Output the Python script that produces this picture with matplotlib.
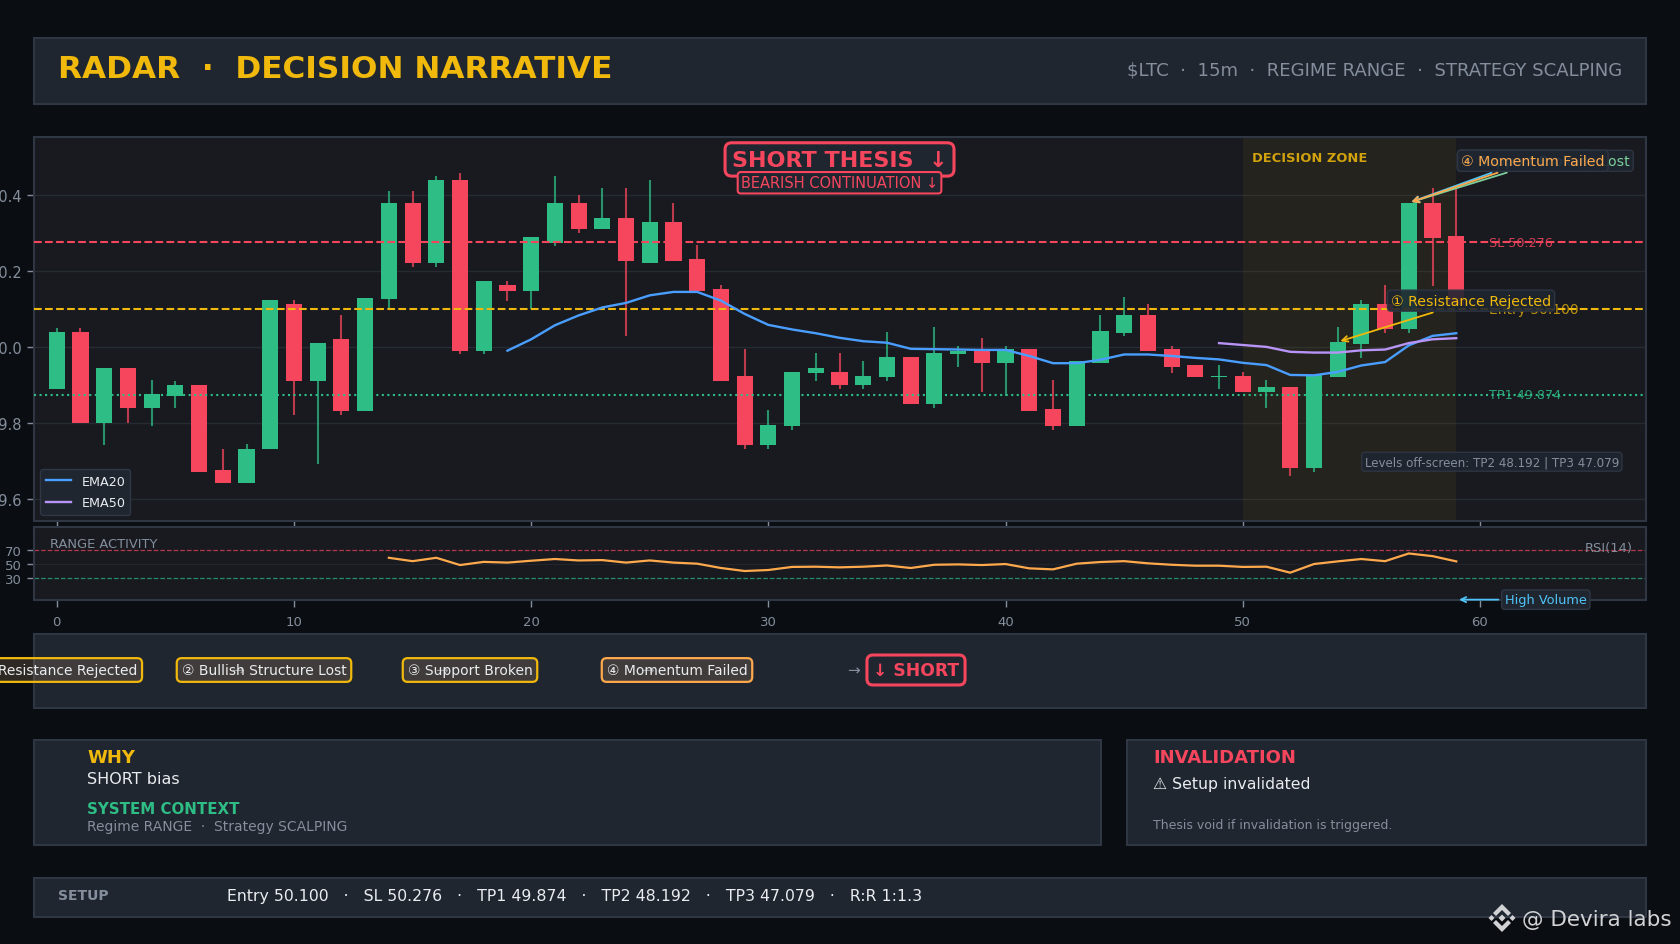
import numpy as np
import matplotlib
matplotlib.use("Agg")
import matplotlib.pyplot as plt
from matplotlib.patches import Rectangle, Polygon

# Palette
BG = "#0a0e12"
PANEL = "#1f2630"
EDGE = "#2f3744"
CHART = "#181a20"
GREEN = "#2ebd85"
RED = "#f6465d"
GOLD = "#f0b90b"
ORANGE = "#ffa94d"
CYAN = "#4fc3f7"
BLUE = "#4a9eff"
PURPLE = "#b794f6"
TEXT = "#eaecef"
GREY = "#848e9c"

# Candles
opens = [49.89, 50.04, 49.80, 49.945, 49.84, 49.87, 49.90, 49.675, 49.64, 49.73,
         50.114, 49.91, 50.02, 49.83, 50.127, 50.38, 50.22, 50.44, 49.99, 50.164,
         50.148, 50.275, 50.38, 50.31, 50.34, 50.22, 50.33, 50.232, 50.153, 49.924,
         49.74, 49.79, 49.93, 49.935, 49.90, 49.92, 49.974, 49.85, 49.98, 49.995,
         49.958, 49.995, 49.835, 49.79, 49.958, 50.037, 50.085, 49.995, 49.953, 49.92,
         49.924, 49.88, 49.895, 49.68, 49.92, 50.008, 50.114, 50.048, 50.38, 50.293]
highs = [50.05, 50.05, 49.945, 49.945, 49.913, 49.91, 49.90, 49.73, 49.745, 50.124,
         50.124, 50.01, 50.085, 50.13, 50.41, 50.41, 50.45, 50.46, 50.174, 50.174,
         50.29, 50.45, 50.40, 50.42, 50.42, 50.44, 50.38, 50.27, 50.164, 49.995,
         49.834, 49.935, 49.985, 49.985, 49.964, 50.04, 49.974, 50.053, 50.003, 50.024,
         50.003, 49.995, 49.913, 49.964, 50.085, 50.132, 50.114, 50.003, 49.953, 49.953,
         49.935, 49.913, 49.895, 49.926, 50.053, 50.124, 50.164, 50.38, 50.42, 50.42]
lows = [49.89, 49.80, 49.74, 49.80, 49.79, 49.84, 49.67, 49.64, 49.64, 49.73,
        49.82, 49.69, 49.82, 49.83, 50.10, 50.21, 50.21, 49.98, 49.98, 50.12,
        50.10, 50.267, 50.30, 50.31, 50.03, 50.22, 50.227, 50.148, 49.91, 49.73,
        49.73, 49.78, 49.91, 49.89, 49.89, 49.91, 49.85, 49.84, 49.948, 49.88,
        49.87, 49.83, 49.78, 49.79, 49.958, 50.03, 49.99, 49.93, 49.92, 49.89,
        49.88, 49.84, 49.66, 49.67, 49.92, 49.97, 50.037, 50.037, 50.16, 50.11]
closes = [50.04, 49.80, 49.945, 49.84, 49.875, 49.90, 49.67, 49.64, 49.73, 50.124,
          49.91, 50.01, 49.83, 50.13, 50.38, 50.22, 50.44, 49.99, 50.174, 50.148,
          50.29, 50.38, 50.31, 50.34, 50.227, 50.33, 50.227, 50.148, 49.91, 49.74,
          49.795, 49.935, 49.945, 49.90, 49.924, 49.974, 49.85, 49.985, 49.99, 49.958,
          49.995, 49.83, 49.79, 49.964, 50.043, 50.085, 49.99, 49.948, 49.92, 49.924,
          49.88, 49.895, 49.68, 49.926, 50.013, 50.114, 50.048, 50.38, 50.288, 50.11]

# EMA20 starts at candle 19, EMA50 at candle 49, RSI at candle 14
ema20 = [49.99, 50.02, 50.057, 50.083, 50.104, 50.116, 50.136, 50.145, 50.145, 50.122,
         50.087, 50.058, 50.046, 50.036, 50.024, 50.015, 50.011, 49.995, 49.994, 49.993,
         49.992, 49.992, 49.976, 49.957, 49.957, 49.966, 49.98, 49.98, 49.976, 49.971,
         49.967, 49.958, 49.952, 49.926, 49.925, 49.934, 49.951, 49.96, 50.004, 50.029,
         50.036]
ema50 = [50.01, 50.005, 50.0, 49.987, 49.985, 49.985, 49.991, 49.993, 50.01, 50.02, 50.023]
rsi = [58.7, 54, 58.7, 48.6, 53, 52, 54.6, 57, 55, 55.5, 52, 55, 52, 50.5, 44.5, 40.3,
       41.7, 46, 46.3, 45.4, 46.3, 48, 44.5, 49, 49.5, 48.6, 50, 44, 42.6, 50.5, 52.8,
       54, 51, 49, 47.7, 47.7, 46, 46.3, 38, 50, 53.7, 57, 54, 64.7, 61, 53.7]

# Levels
entry = 50.100
sl = 50.276
tp1 = 49.874

price_ticks = [49.6, 49.8, 50.0, 50.2, 50.4]
time_ticks = [0, 10, 20, 30, 40, 50, 60]
rsi_ticks = [30, 50, 70]

flow_steps = ["① Resistance Rejected", "② Bullish Structure Lost", "③ Support Broken", "④ Momentum Failed"]
setup_line = "Entry 50.100   ·   SL 50.276   ·   TP1 49.874   ·   TP2 48.192   ·   TP3 47.079   ·   R:R 1:1.3"

W, H = 1680, 945


# Axes from pixel box (top-left origin)
def px_axes(x0, y0, x1, y1):
    return fig.add_axes([x0 / W, 1 - y1 / H, (x1 - x0) / W, (y1 - y0) / H])


fig = plt.figure(figsize=(16.8, 9.45), dpi=100, facecolor=BG)

# Overlay for panels and text, pixel coordinates
bg = fig.add_axes([0, 0, 1, 1], zorder=0)
bg.set_xlim(0, W)
bg.set_ylim(H, 0)
bg.axis("off")

panels = [(34, 39, 1646, 105), (34, 635, 1646, 708.5), (34, 741, 1101, 846),
          (1127, 741, 1646, 846), (34, 879, 1646, 918)]
for x0, y0, x1, y1 in panels:
    bg.add_patch(Rectangle((x0, y0), x1 - x0, y1 - y0, fc=PANEL, ec=EDGE, lw=1.5))

# Header
bg.text(58, 70, "RADAR  ·  DECISION NARRATIVE", color=GOLD, fontsize=22.45, fontweight="bold", va="center")
bg.text(1622, 71, "$LTC  ·  15m  ·  REGIME RANGE  ·  STRATEGY SCALPING", color=GREY, fontsize=13.1, ha="right", va="center")

# Main chart
ax = px_axes(34, 138, 1646, 522)
ax.set_zorder(1)
ax.set_facecolor(CHART)
idx = np.arange(len(opens))
o = np.array(opens)
c = np.array(closes)
colors = [GREEN if b >= a else RED for a, b in zip(opens, closes)]
ax.vlines(idx, lows, highs, colors=colors, lw=1.5, alpha=0.75, zorder=2)
ax.bar(idx, np.abs(c - o), bottom=np.minimum(o, c), width=0.68, color=colors, zorder=3)
ax.axvspan(50, 59, color=GOLD, alpha=0.06, lw=0, zorder=1)
ax.axhline(sl, color=RED, ls="--", lw=1.5, zorder=4)
ax.axhline(entry, color=GOLD, ls="--", lw=1.5, zorder=4)
ax.axhline(tp1, color=GREEN, ls=":", lw=1.5, zorder=4)
ax.plot(idx[19:], ema20, color=BLUE, lw=1.7, label="EMA20", zorder=5)
ax.plot(idx[49:], ema50, color=PURPLE, lw=1.7, label="EMA50", zorder=5)
ax.set_xlim(-0.96, 67)
ax.set_ylim(49.5407, 50.5537)
ax.set_xticks(time_ticks)
ax.set_xticklabels([])
ax.set_yticks(price_ticks)
ax.set_yticklabels([f"{v:.1f}" for v in price_ticks])
ax.tick_params(axis="both", colors=GREY, labelsize=10.5, length=5, width=1)
ax.grid(axis="y", color="#262a31", lw=1)
ax.set_axisbelow(True)
for s in ax.spines.values():
    s.set_color(EDGE)
    s.set_linewidth(1.5)

leg = ax.legend(loc="lower left", bbox_to_anchor=(0.0, 0.0), fontsize=9.2, facecolor=PANEL, edgecolor=EDGE,
                labelcolor=TEXT, framealpha=1, labelspacing=0.7)
leg.set_zorder(8)

ax.text(60.4, sl, f"SL {sl:.3f}", color=RED, fontsize=9.2, alpha=0.85, va="center", zorder=6)
ax.text(60.4, entry, f"Entry {entry:.3f}", color=GOLD, fontsize=10, alpha=0.75, va="center", zorder=6)
ax.text(60.4, tp1, f"TP1 {tp1:.3f}", color=GREEN, fontsize=9.2, alpha=0.85, va="center", zorder=6)
ax.text(50.4, 50.499, "DECISION ZONE", color=GOLD, fontsize=9.4, fontweight="bold", alpha=0.85, va="center", zorder=6)

ax.text(33, 50.4945, "SHORT THESIS  ↓", color=RED, fontsize=16, fontweight="bold", ha="center", va="center", zorder=9,
        bbox=dict(boxstyle="round,pad=0.3", fc=PANEL, ec=RED, lw=2.2))
ax.text(33, 50.433, "BEARISH CONTINUATION ↓", color=RED, fontsize=10.5, ha="center", va="center", zorder=10,
        bbox=dict(boxstyle="round,pad=0.22", fc=PANEL, ec=RED, lw=1.5))

ax.text(60.5, 49.697, "Levels off-screen: TP2 48.192 | TP3 47.079", color=GREY, fontsize=8.6, ha="center", va="center", zorder=9,
        bbox=dict(boxstyle="round,pad=0.25", fc=PANEL, ec=EDGE, lw=1, alpha=0.9))

# Same target, left aligned labels stacked on each other
for label, col in [(flow_steps[1], "#7ccf9a"), (flow_steps[2], CYAN), (flow_steps[3], ORANGE)]:
    ax.annotate(label, xy=(57, closes[57]), xytext=(59.2, 50.491), color=col, fontsize=10.2, ha="left", va="center", zorder=11,
                arrowprops=dict(arrowstyle="->", color=col, lw=1.3),
                bbox=dict(boxstyle="round,pad=0.25", fc=PANEL, ec=EDGE, lw=1, alpha=0.9))
ax.annotate(flow_steps[0], xy=(54, closes[54]), xytext=(56.25, 50.122), color=GOLD, fontsize=10.2, ha="left", va="center", zorder=11,
            arrowprops=dict(arrowstyle="->", color=GOLD, lw=1.3),
            bbox=dict(boxstyle="round,pad=0.25", fc=PANEL, ec=EDGE, lw=1, alpha=0.9))

# RSI panel
ax2 = px_axes(34, 528, 1646, 601)
ax2.set_zorder(1)
ax2.set_facecolor(CHART)
ax2.plot(idx[14:], rsi, color=ORANGE, lw=1.6, zorder=3)
ax2.axhline(70, color=RED, ls="--", lw=0.9, alpha=0.7)
ax2.axhline(30, color=GREEN, ls="--", lw=0.9, alpha=0.7)
ax2.axhline(50, color="#22252b", lw=0.8)
ax2.set_xlim(-0.96, 67)
ax2.set_ylim(0, 101.5)
ax2.set_xticks(time_ticks)
ax2.set_yticks(rsi_ticks)
ax2.tick_params(axis="both", colors=GREY, labelsize=9.5, length=5, width=1)
ax2.tick_params(axis="x", pad=5.5)
for s in ax2.spines.values():
    s.set_color(EDGE)
    s.set_linewidth(1.5)
ax2.text(0.0098, 0.68, "RANGE ACTIVITY", transform=ax2.transAxes, color=GREY, fontsize=9.4, va="bottom")
ax2.text(0.9915, 0.63, "RSI(14)", transform=ax2.transAxes, color=GREY, fontsize=9.4, ha="right", va="bottom")
ax2.annotate("High Volume", xy=(59, 0.5), xytext=(61.05, 0.5), color=CYAN, fontsize=9.3, ha="left", va="center",
             annotation_clip=False, zorder=10,
             arrowprops=dict(arrowstyle="->", color=CYAN, lw=1.3),
             bbox=dict(boxstyle="round,pad=0.25", fc=PANEL, ec=EDGE, lw=1))

# Decision flow chips
chip_fill = (0.78, 0.6, 0.43, 0.2)
for x in [238, 441, 648, 854]:
    bg.text(x, 671, "→", color=GREY, fontsize=11, ha="center", va="center")
for x, label, col in zip([59, 264, 470, 677], flow_steps, [GOLD, GOLD, GOLD, ORANGE]):
    bg.text(x, 671, label, color=TEXT, fontsize=10, ha="center", va="center",
            bbox=dict(boxstyle="round,pad=0.35", fc=chip_fill, ec=col, lw=1.6))
bg.text(916, 671, "↓ SHORT", color=RED, fontsize=12.3, fontweight="bold", ha="center", va="center",
        bbox=dict(boxstyle="round,pad=0.35", fc=PANEL, ec=RED, lw=2.2))

# Why / invalidation
bg.text(87, 758, "WHY", color=GOLD, fontsize=13, fontweight="bold", va="center")
bg.text(87, 780, "SHORT bias", color=TEXT, fontsize=11.5, va="center")
bg.text(87, 809, "SYSTEM CONTEXT", color=GREEN, fontsize=10.8, fontweight="bold", va="center")
bg.text(87, 827, "Regime RANGE  ·  Strategy SCALPING", color=GREY, fontsize=10, va="center")
bg.text(1153, 758, "INVALIDATION", color=RED, fontsize=13, fontweight="bold", va="center")
bg.text(1153, 785, "⚠ Setup invalidated", color=TEXT, fontsize=11.3, va="center")
bg.text(1153, 826, "Thesis void if invalidation is triggered.", color=GREY, fontsize=9, va="center")

# Setup row
bg.text(58, 896, "SETUP", color=GREY, fontsize=10, fontweight="bold", va="center")
bg.text(227, 896.5, setup_line, color=TEXT, fontsize=11.3, va="center")

# Watermark
mark = fig.add_axes([0, 0, 1, 1], zorder=5)
mark.set_xlim(0, W)
mark.set_ylim(H, 0)
mark.axis("off")
mark.patch.set_alpha(0)
mark.text(1522, 920, "@ Devira labs", color="#d0d2d4", fontsize=15.5, va="center")
cx, cy = 1502, 919
for dx, r in [(0, 3.5), (-10.5, 3), (10.5, 3)]:
    mark.add_patch(Polygon([(cx + dx - r, cy), (cx + dx, cy - r), (cx + dx + r, cy), (cx + dx, cy + r)], fc="#d0d2d4", lw=0))
for sign in (-1, 1):
    mark.add_patch(Polygon([(cx - 9, cy + sign * 5), (cx, cy + sign * 14), (cx + 9, cy + sign * 5),
                            (cx + 6, cy + sign * 2), (cx, cy + sign * 8), (cx - 6, cy + sign * 2)], fc="#d0d2d4", lw=0))

fig.savefig("out.png", dpi=100, facecolor=BG)
